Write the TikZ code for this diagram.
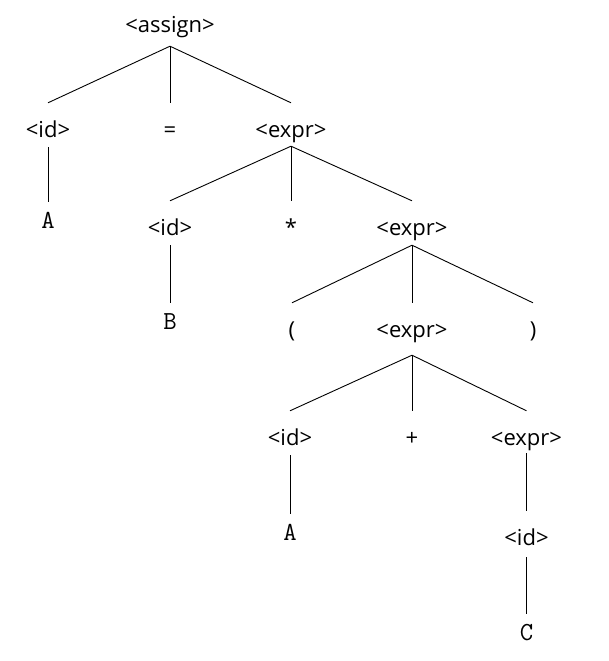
\documentclass[tikz,border=0pt]{standalone}
\usepackage{fontspec}
\setmainfont{Open Sans}
\begin{document}
\begin{tikzpicture}[x=1pt,y=-1pt,
  nt/.style={anchor=base,inner sep=0pt,text height=34pt,text depth=10pt,font=\fontsize{22}{24}\selectfont},
  lf/.style={anchor=base,inner sep=0pt,text height=26pt,text depth=10pt,font=\ttfamily\fontsize{26}{28}\selectfont},
  edge/.style={draw=black,line width=0.9pt}]
\useasboundingbox (0,0) rectangle (608,661);
\node[nt,text depth=13pt] (assign) at (170,33) {<assign>};
\node[nt] (id1) at (48,137) {<id>};
\node[nt] (eq) at (170,137) {=};
\node[nt,text depth=9pt] (expr1) at (291,137) {<expr>};
\node[lf] (a1) at (48,228) {A};
\node[nt] (id2) at (170,235) {<id>};
\node[nt] (star) at (291,235) {*};
\node[nt] (expr2) at (412,235) {<expr>};
\node[lf] (b) at (170,329) {B};
\node[nt] (lp) at (292,337) {(};
\node[nt,text depth=18pt] (expr3) at (412,337) {<expr>};
\node[nt] (rp) at (533,337) {)};
\node[nt] (id3) at (290,445) {<id>};
\node[nt] (plus) at (412,445) {+};
\node[nt,text depth=8pt] (expr4) at (526.5,445) {<expr>};
\node[lf] (a2) at (290,540) {A};
\node[nt,text depth=12pt] (id4) at (526.5,545) {<id>};
\node[lf] (c) at (526.5,640) {C};
\draw[edge] (assign.south) -- (id1.north);
\draw[edge] (assign.south) -- (eq.north);
\draw[edge] (assign.south) -- (expr1.north);
\draw[edge] (id1.south) -- (a1.north);
\draw[edge] (expr1.south) -- (id2.north);
\draw[edge] (expr1.south) -- (star.north);
\draw[edge] (expr1.south) -- (expr2.north);
\draw[edge] (id2.south) -- (b.north);
\draw[edge] (expr2.south) -- (lp.north);
\draw[edge] (expr2.south) -- (expr3.north);
\draw[edge] (expr2.south) -- (rp.north);
\draw[edge] (expr3.south) -- (id3.north);
\draw[edge] (expr3.south) -- (plus.north);
\draw[edge] (expr3.south) -- (expr4.north);
\draw[edge] (id3.south) -- (a2.north);
\draw[edge] (expr4.south) -- (id4.north);
\draw[edge] (id4.south) -- (c.north);
\end{tikzpicture}
\end{document}
